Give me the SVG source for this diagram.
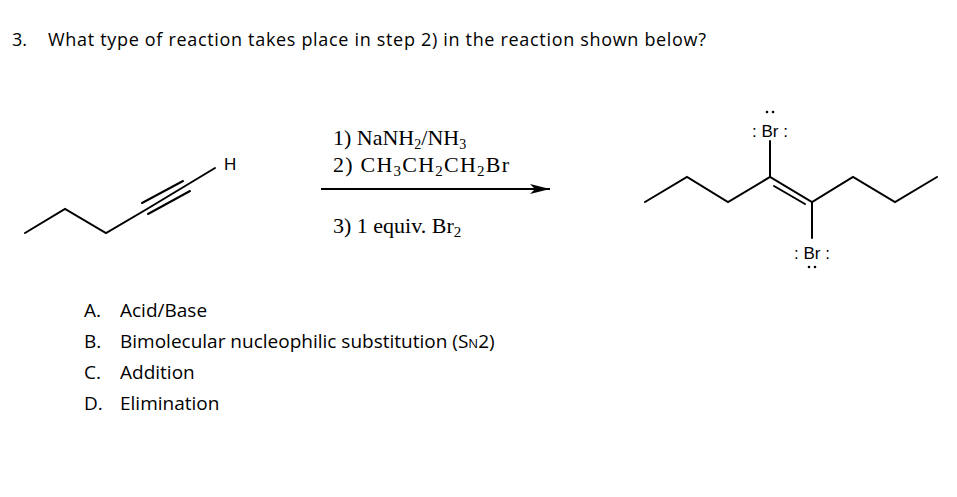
<svg xmlns="http://www.w3.org/2000/svg" width="957" height="497" viewBox="0 0 957 497">
<defs><style>
.b{stroke:#000;stroke-width:2;fill:none;stroke-linecap:round}
.q{font-family:"Open Sans","Liberation Sans",sans-serif;font-size:18px;fill:#000}
.o{font-family:"Open Sans","Liberation Sans",sans-serif;font-size:19px;fill:#000}
.t{font-family:"Liberation Serif",serif;font-size:22px;fill:#000}
.a{font-family:"Liberation Sans",sans-serif;font-size:17px;fill:#000}
</style>
<marker id="ah" viewBox="0 0 20 10" refX="20" refY="5" markerWidth="20" markerHeight="10" markerUnits="userSpaceOnUse" orient="auto"><path d="M0,0L20,5L0,10L5,5Z" fill="#000"/></marker>
</defs>
<rect width="957" height="497" fill="#fff"/>
<g id="question">
<text class="q" x="12" y="46">3.</text>
<text class="q" x="48" y="46" textLength="658">What type of reaction takes place in step 2) in the reaction shown below?</text>
</g>
<g id="reactant">
<path class="b" d="M25,233L65,209L106,233L147,209L215,168"/>
<path class="b" d="M142,203L183,181M148,214L190,191"/>
<text class="a" x="224" y="170">H</text>
</g>
<g id="conditions">
<text class="t" x="333" y="145">1) NaNH<tspan font-size="14" dy="4">2</tspan><tspan dy="-4">/NH</tspan><tspan font-size="14" dy="4">3</tspan></text>
<text class="t" x="333" y="172" textLength="176">2) CH<tspan font-size="15" dy="4">3</tspan><tspan dy="-4">CH</tspan><tspan font-size="15" dy="4">2</tspan><tspan dy="-4">CH</tspan><tspan font-size="15" dy="4">2</tspan><tspan dy="-4">Br</tspan></text>
<text class="t" x="333" y="233">3) 1 equiv. Br<tspan font-size="15" dy="4">2</tspan></text>
</g>
<g id="connectors">
<line x1="321" y1="189" x2="550" y2="189" stroke="#000" stroke-width="2" marker-end="url(#ah)"/>
</g>
<g id="product">
<path class="b" d="M645,202L687,177L728,202L770,177L812,202L853,177L895,202L937,177"/>
<path class="b" d="M774,186L805,204"/>
<path class="b" d="M770,177L770,141M812,202L812,238"/>
<text class="a" x="770" y="137" text-anchor="middle">: Br :</text>
<text class="a" x="812" y="259" text-anchor="middle">: Br :</text>
<circle cx="767" cy="112" r="1.3"/><circle cx="773" cy="112" r="1.3"/>
<circle cx="809" cy="267" r="1.3"/><circle cx="815" cy="267" r="1.3"/>
</g>
<g id="options" class="o">
<text x="84" y="317">A.</text><text x="120" y="317">Acid/Base</text>
<text x="84" y="348">B.</text><text x="120" y="348">Bimolecular nucleophilic substitution (S<tspan font-size="13">N</tspan>2)</text>
<text x="84" y="379">C.</text><text x="120" y="379">Addition</text>
<text x="84" y="410">D.</text><text x="120" y="410">Elimination</text>
</g>
</svg>
